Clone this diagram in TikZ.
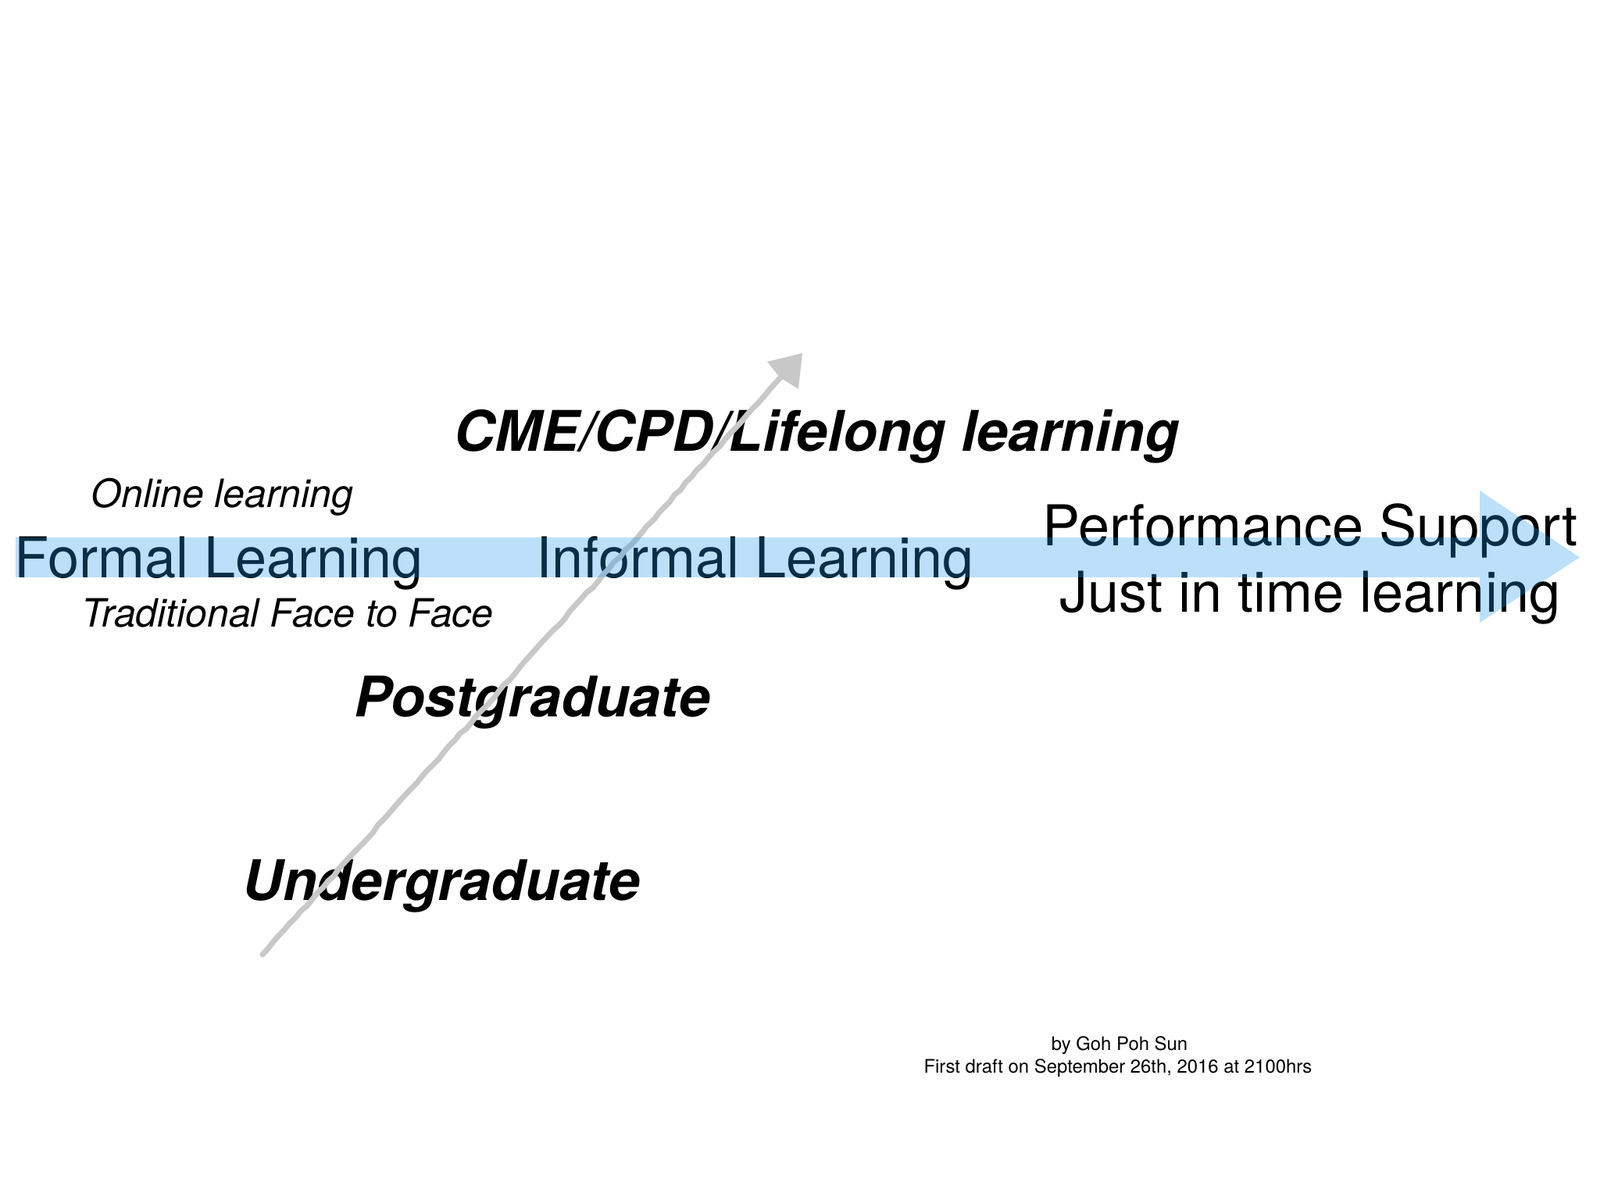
\documentclass[tikz,border=0pt]{standalone}
\usepackage{fontspec}
\setmainfont{TeX Gyre Heros}
\usetikzlibrary{arrows.meta,calc,decorations.pathmorphing}
\definecolor{barblue}{RGB}{34,153,238}
\definecolor{pencil}{RGB}{200,200,200}
\tikzset{
  bigtext/.style={inner sep=0pt,font=\fontsize{20.5}{24}\selectfont},
  boldtext/.style={inner sep=0pt,font=\fontsize{20.4}{24}\selectfont\bfseries\itshape},
  smalltext/.style={inner sep=0pt,font=\fontsize{14.2}{17}\selectfont\itshape},
  credit/.style={inner sep=0pt,font=\fontsize{6.8}{8.2}\selectfont},
  pencilline/.style={draw=pencil,line width=2pt,line cap=round,line join=round,
    decorate,decoration={random steps,segment length=3pt,amplitude=0.3pt}}
}
\begin{document}
\begin{tikzpicture}
  \useasboundingbox (0,0) rectangle (20.48,15.36);
  % labels on the timeline
  \node[bigtext,anchor=base west] (formal) at (0.18,7.96) {Formal Learning};
  \node[bigtext,anchor=base west] (informal) at (6.86,7.96) {Informal Learning};
  \node[bigtext,anchor=base] (perf) at (16.77,8.37) {Performance Support};
  \node[bigtext,anchor=base] (jit) at (16.77,7.52) {Just in time learning};
  \node[smalltext,anchor=base west] (online) at (1.16,8.86) {Online learning};
  \node[smalltext,anchor=base west] (trad) at (1.04,7.33) {Traditional Face to Face};
  % levels
  \node[boldtext,anchor=base west] (cme) at (5.81,9.58) {CME/CPD/Lifelong learning};
  \node[boldtext,anchor=base west] (post) at (4.53,6.18) {Postgraduate};
  \node[boldtext,anchor=base west] (under) at (3.10,3.83) {Undergraduate};
  % credit
  \node[credit,anchor=base] (by) at (14.33,1.91) {by Goh Poh Sun};
  \node[credit,anchor=base] (draft) at (14.31,1.62) {First draft on September 26th, 2016 at 2100hrs};

  % pencil arrow
  \coordinate (lo) at (3.36,3.14);
  \coordinate (hi) at (10.27,10.84);
  \draw[pencilline] (lo) -- ($(lo)!0.96!(hi)$);
  \fill[pencil] (hi) -- ++(-0.45,-0.11) -- ++(0.16,-0.20) -- ++(0.24,-0.15) -- cycle;

  % blue timeline arrow
  \coordinate (bartl) at (0.20,8.48);
  \coordinate (barbl) at (0.20,7.97);
  \coordinate (tip) at (20.22,8.225);
  \fill[barblue,fill opacity=0.3]
    (bartl) -- (18.94,8.48) -- (18.94,9.08) -- (tip)
    -- (18.94,7.39) -- (18.94,7.97) -- (barbl) -- cycle;
\end{tikzpicture}
\end{document}
